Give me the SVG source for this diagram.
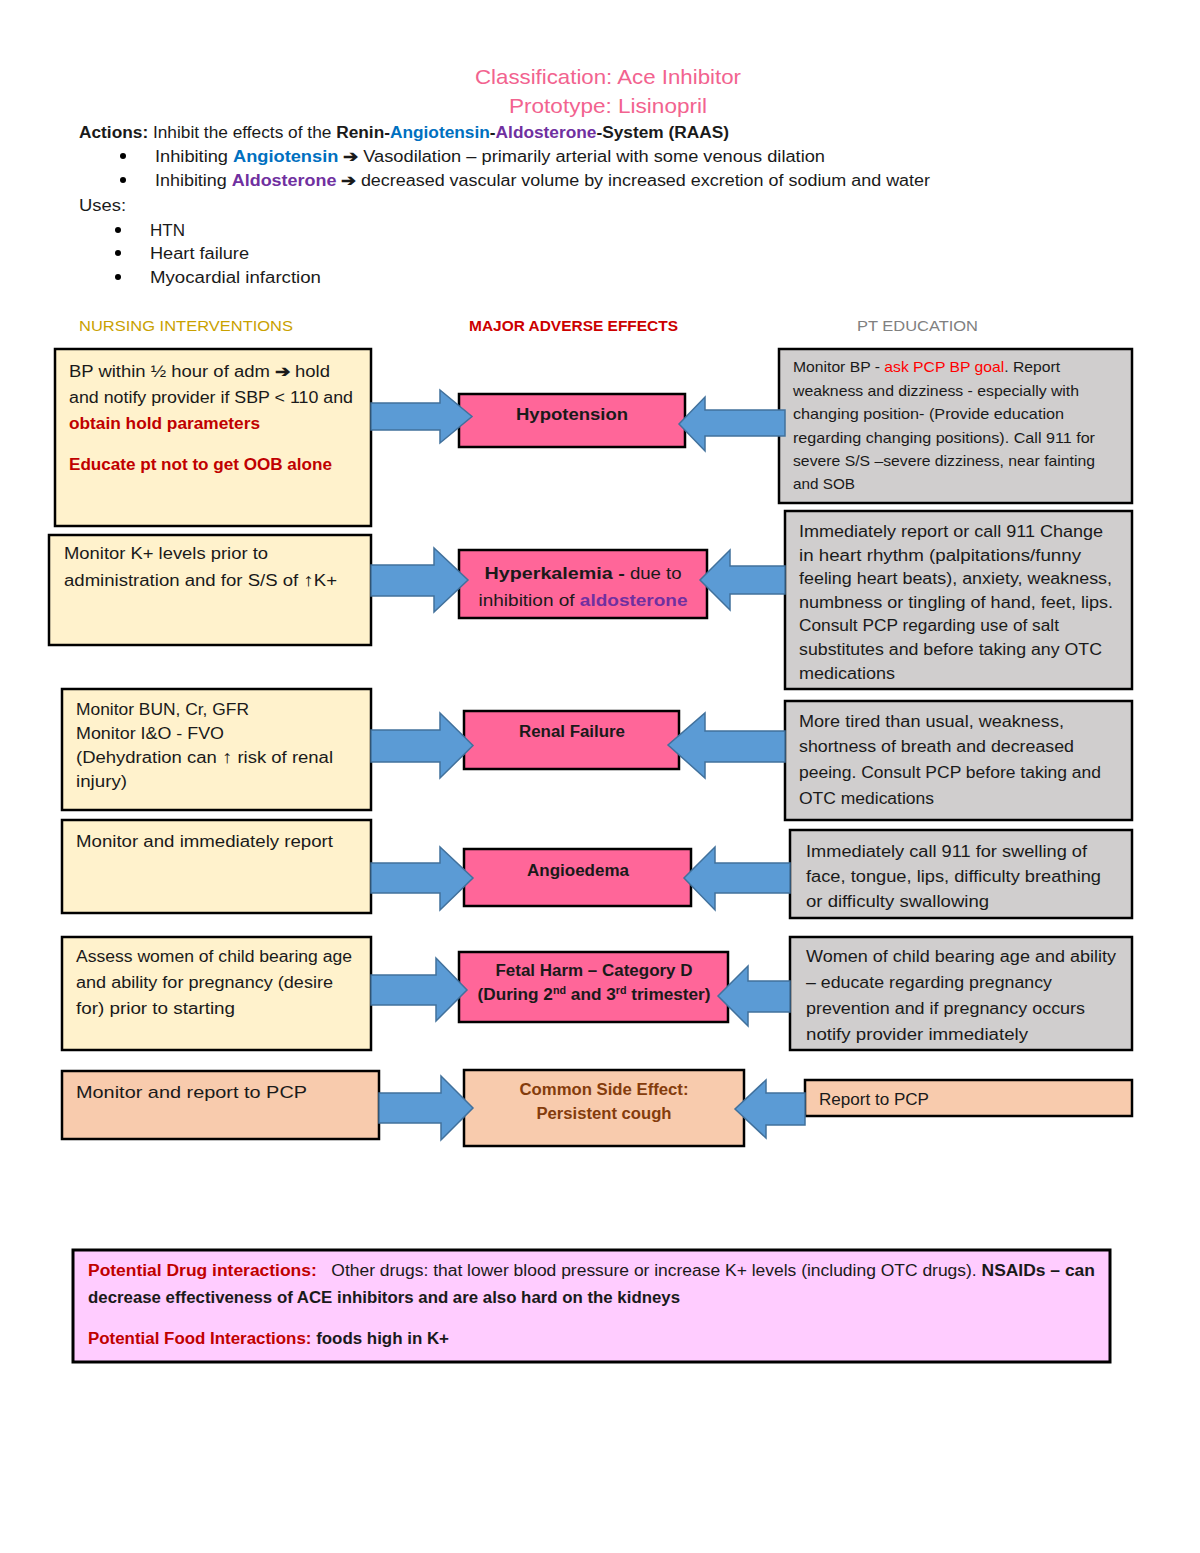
<svg xmlns="http://www.w3.org/2000/svg" width="1200" height="1553" viewBox="0 0 1200 1553">
<style>
text{font-family:"Liberation Sans",Arial,sans-serif;font-size:16px;fill:#1a1a1a}
.b{font-weight:bold}
.t{font-size:21px;fill:#F2638F;text-anchor:middle}
.red{fill:#C00000;font-weight:bold}
.bred{fill:#FF0000}
.blue{fill:#0070C0;font-weight:bold}
.pur{fill:#7030A0;font-weight:bold}
.hd{font-size:15px}
.sm{font-size:15px}
.c{text-anchor:middle}
.yel{fill:#FFF2CC;stroke:#000;stroke-width:2.5}
.gry{fill:#D0CECE;stroke:#000;stroke-width:2.5}
.pnk{fill:#FF6699;stroke:#000;stroke-width:2.5}
.pch{fill:#F8CBAD;stroke:#000;stroke-width:2.5}
.mag{fill:#FFCCFF;stroke:#000;stroke-width:3}
.arr{fill:#5B9BD5;stroke:#41719C;stroke-width:1.5}
.brn{fill:#843C0C;font-weight:bold}
.up{font-size:18px}
</style>
<rect width="1200" height="1553" fill="#fff"/>

<g id="header">
<text class="t" x="608" y="84" textLength="266" lengthAdjust="spacingAndGlyphs">Classification: Ace Inhibitor</text>
<text class="t" x="608" y="113" textLength="198" lengthAdjust="spacingAndGlyphs">Prototype: Lisinopril</text>
<text x="79" y="138" textLength="650" lengthAdjust="spacingAndGlyphs"><tspan class="b">Actions:</tspan> Inhibit the effects of the <tspan class="b">Renin-</tspan><tspan class="blue">Angiotensin</tspan><tspan class="b">-</tspan><tspan class="pur">Aldosterone</tspan><tspan class="b">-System (RAAS)</tspan></text>
<circle cx="123" cy="156" r="3" fill="#000"/>
<text x="155" y="162" textLength="670" lengthAdjust="spacingAndGlyphs">Inhibiting <tspan class="blue">Angiotensin</tspan> <tspan class="b">➔</tspan> Vasodilation – primarily arterial with some venous dilation</text>
<circle cx="123" cy="180" r="3" fill="#000"/>
<text x="155" y="186" textLength="775" lengthAdjust="spacingAndGlyphs">Inhibiting <tspan class="pur">Aldosterone</tspan> <tspan class="b">➔</tspan> decreased vascular volume by increased excretion of sodium and water</text>
<text x="79" y="211" textLength="47" lengthAdjust="spacingAndGlyphs">Uses:</text>
<circle cx="118" cy="230" r="3" fill="#000"/>
<text x="150" y="236" textLength="35" lengthAdjust="spacingAndGlyphs">HTN</text>
<circle cx="118" cy="253" r="3" fill="#000"/>
<text x="150" y="259" textLength="99" lengthAdjust="spacingAndGlyphs">Heart failure</text>
<circle cx="118" cy="277" r="3" fill="#000"/>
<text x="150" y="283" textLength="171" lengthAdjust="spacingAndGlyphs">Myocardial infarction</text>
<text class="hd" x="79" y="331" style="fill:#C9A100" textLength="214" lengthAdjust="spacingAndGlyphs">NURSING INTERVENTIONS</text>
<text class="hd b" x="469" y="331" style="fill:#CC0000" textLength="209" lengthAdjust="spacingAndGlyphs">MAJOR ADVERSE EFFECTS</text>
<text class="hd" x="857" y="331" style="fill:#808080" textLength="121" lengthAdjust="spacingAndGlyphs">PT EDUCATION</text>
</g>

<g id="ni-hypotension">
<rect class="yel" x="55" y="349" width="316" height="177"/>
<text x="69" y="377" textLength="261" lengthAdjust="spacingAndGlyphs">BP within ½ hour of adm <tspan class="b">➔</tspan> hold</text>
<text x="69" y="403" textLength="284" lengthAdjust="spacingAndGlyphs">and notify provider if SBP &lt; 110 and</text>
<text class="red" x="69" y="429" textLength="191" lengthAdjust="spacingAndGlyphs">obtain hold parameters</text>
<text class="red" x="69" y="470" textLength="263" lengthAdjust="spacingAndGlyphs">Educate pt not to get OOB alone</text>
</g>
<g id="ae-hypotension">
<rect class="pnk" x="459" y="394" width="226" height="53"/>
<text class="b c" x="572" y="420" textLength="112" lengthAdjust="spacingAndGlyphs">Hypotension</text>
</g>
<g id="pe-hypotension">
<rect class="gry" x="779" y="349" width="353" height="154"/>
<text class="sm" x="793" y="372" textLength="267" lengthAdjust="spacingAndGlyphs">Monitor BP - <tspan class="bred">ask PCP BP goal</tspan>. Report</text>
<text class="sm" x="793" y="396" textLength="286" lengthAdjust="spacingAndGlyphs">weakness and dizziness - especially with</text>
<text class="sm" x="793" y="419" textLength="271" lengthAdjust="spacingAndGlyphs">changing position- (Provide education</text>
<text class="sm" x="793" y="443" textLength="302" lengthAdjust="spacingAndGlyphs">regarding changing positions). Call 911 for</text>
<text class="sm" x="793" y="466" textLength="302" lengthAdjust="spacingAndGlyphs">severe S/S –severe dizziness, near fainting</text>
<text class="sm" x="793" y="489" textLength="62" lengthAdjust="spacingAndGlyphs">and SOB</text>
</g>

<g id="ni-hyperkalemia">
<rect class="yel" x="49" y="535" width="322" height="110"/>
<text x="64" y="559" textLength="204" lengthAdjust="spacingAndGlyphs">Monitor K+ levels prior to</text>
<text x="64" y="586" textLength="273" lengthAdjust="spacingAndGlyphs">administration and for S/S of  <tspan class="up">↑</tspan>K+</text>
</g>
<g id="ae-hyperkalemia">
<rect class="pnk" x="459" y="550" width="248" height="68"/>
<text class="c" x="583" y="579" textLength="197" lengthAdjust="spacingAndGlyphs"><tspan class="b" style="font-size:17px">Hyperkalemia -</tspan> due to</text>
<text class="c" x="583" y="606" textLength="209" lengthAdjust="spacingAndGlyphs">inhibition of <tspan class="pur">aldosterone</tspan></text>
</g>
<g id="pe-hyperkalemia">
<rect class="gry" x="785" y="511" width="347" height="178"/>
<text x="799" y="537" textLength="304" lengthAdjust="spacingAndGlyphs">Immediately report or call 911 Change</text>
<text x="799" y="561" textLength="282" lengthAdjust="spacingAndGlyphs">in heart rhythm (palpitations/funny</text>
<text x="799" y="584" textLength="313" lengthAdjust="spacingAndGlyphs">feeling heart beats), anxiety, weakness,</text>
<text x="799" y="608" textLength="314" lengthAdjust="spacingAndGlyphs">numbness or tingling of hand, feet, lips.</text>
<text x="799" y="631" textLength="260" lengthAdjust="spacingAndGlyphs">Consult PCP regarding use of salt</text>
<text x="799" y="655" textLength="303" lengthAdjust="spacingAndGlyphs">substitutes and before taking any OTC</text>
<text x="799" y="679" textLength="96" lengthAdjust="spacingAndGlyphs">medications</text>
</g>

<g id="ni-renal">
<rect class="yel" x="62" y="689" width="309" height="121"/>
<text x="76" y="715" textLength="173" lengthAdjust="spacingAndGlyphs">Monitor BUN, Cr, GFR</text>
<text x="76" y="739" textLength="148" lengthAdjust="spacingAndGlyphs">Monitor I&amp;O - FVO</text>
<text x="76" y="763" textLength="257" lengthAdjust="spacingAndGlyphs">(Dehydration can <tspan class="up">↑</tspan> risk of renal</text>
<text x="76" y="787" textLength="51" lengthAdjust="spacingAndGlyphs">injury)</text>
</g>
<g id="ae-renal">
<rect class="pnk" x="464" y="711" width="215" height="58"/>
<text class="b c" x="572" y="737" textLength="106" lengthAdjust="spacingAndGlyphs">Renal Failure</text>
</g>
<g id="pe-renal">
<rect class="gry" x="785" y="701" width="347" height="119"/>
<text x="799" y="727" textLength="265" lengthAdjust="spacingAndGlyphs">More tired than usual, weakness,</text>
<text x="799" y="752" textLength="275" lengthAdjust="spacingAndGlyphs">shortness of breath and decreased</text>
<text x="799" y="778" textLength="302" lengthAdjust="spacingAndGlyphs">peeing. Consult PCP before taking and</text>
<text x="799" y="804" textLength="135" lengthAdjust="spacingAndGlyphs">OTC medications</text>
</g>

<g id="ni-angioedema">
<rect class="yel" x="62" y="820" width="309" height="93"/>
<text x="76" y="847" textLength="257" lengthAdjust="spacingAndGlyphs">Monitor and immediately report</text>
</g>
<g id="ae-angioedema">
<rect class="pnk" x="464" y="849" width="227" height="57"/>
<text class="b c" x="578" y="876" textLength="102" lengthAdjust="spacingAndGlyphs">Angioedema</text>
</g>
<g id="pe-angioedema">
<rect class="gry" x="790" y="830" width="342" height="88"/>
<text x="806" y="857" textLength="281" lengthAdjust="spacingAndGlyphs">Immediately call 911 for swelling of</text>
<text x="806" y="882" textLength="295" lengthAdjust="spacingAndGlyphs">face, tongue, lips, difficulty breathing</text>
<text x="806" y="907" textLength="183" lengthAdjust="spacingAndGlyphs">or difficulty swallowing</text>
</g>

<g id="ni-fetal">
<rect class="yel" x="62" y="937" width="309" height="113"/>
<text x="76" y="962" textLength="276" lengthAdjust="spacingAndGlyphs">Assess women of child bearing age</text>
<text x="76" y="988" textLength="257" lengthAdjust="spacingAndGlyphs">and ability for pregnancy (desire</text>
<text x="76" y="1014" textLength="159" lengthAdjust="spacingAndGlyphs">for) prior to starting</text>
</g>
<g id="ae-fetal">
<rect class="pnk" x="459" y="952" width="269" height="70"/>
<text class="b c" x="594" y="976" textLength="197" lengthAdjust="spacingAndGlyphs">Fetal Harm – Category D</text>
<text class="b c" x="594" y="1000" textLength="233" lengthAdjust="spacingAndGlyphs">(During 2<tspan style="font-size:10px" dy="-6">nd</tspan><tspan dy="6"> and 3</tspan><tspan style="font-size:10px" dy="-6">rd</tspan><tspan dy="6"> trimester)</tspan></text>
</g>
<g id="pe-fetal">
<rect class="gry" x="790" y="937" width="342" height="113"/>
<text x="806" y="962" textLength="310" lengthAdjust="spacingAndGlyphs">Women of child bearing age and ability</text>
<text x="806" y="988" textLength="246" lengthAdjust="spacingAndGlyphs">– educate regarding pregnancy</text>
<text x="806" y="1014" textLength="279" lengthAdjust="spacingAndGlyphs">prevention and if pregnancy occurs</text>
<text x="806" y="1040" textLength="222" lengthAdjust="spacingAndGlyphs">notify provider immediately</text>
</g>

<g id="ni-cough">
<rect class="pch" x="62" y="1071" width="317" height="68"/>
<text x="76" y="1098" style="font-size:17px" textLength="231" lengthAdjust="spacingAndGlyphs">Monitor and report to PCP</text>
</g>
<g id="ae-cough">
<rect class="pch" x="464" y="1070" width="280" height="76"/>
<text class="brn c" x="604" y="1095" textLength="169" lengthAdjust="spacingAndGlyphs">Common Side Effect:</text>
<text class="brn c" x="604" y="1119" textLength="135" lengthAdjust="spacingAndGlyphs">Persistent cough</text>
</g>
<g id="pe-cough">
<rect class="pch" x="805" y="1080" width="327" height="36"/>
<text x="819" y="1105" textLength="110" lengthAdjust="spacingAndGlyphs">Report to PCP</text>
</g>

<g id="interactions">
<rect class="mag" x="73" y="1250" width="1037" height="112"/>
<text x="88" y="1276" textLength="1007" lengthAdjust="spacingAndGlyphs"><tspan class="red">Potential Drug interactions:</tspan>&#160;&#160;&#160;Other drugs: that lower blood pressure or increase K+ levels (including OTC drugs). <tspan class="b">NSAIDs – can</tspan></text>
<text class="b" x="88" y="1303" textLength="592" lengthAdjust="spacingAndGlyphs">decrease effectiveness of ACE inhibitors and are also hard on the kidneys</text>
<text x="88" y="1344" textLength="361" lengthAdjust="spacingAndGlyphs"><tspan class="red">Potential Food Interactions:</tspan><tspan class="b"> foods high in K+</tspan></text>
</g>

<g id="connectors">
<polygon class="arr" points="371,403 440,403 440,390 472,416.5 440,443 440,430 371,430"/>
<polygon class="arr" points="371,565 434,565 434,548 468,580 434,612 434,596 371,596"/>
<polygon class="arr" points="371,730 440,730 440,713 473,745.5 440,778 440,762 371,762"/>
<polygon class="arr" points="371,863 440,863 440,847 473,878 440,910 440,893 371,893"/>
<polygon class="arr" points="371,975 436,975 436,958 467,990 436,1021 436,1005 371,1005"/>
<polygon class="arr" points="379,1093 441,1093 441,1076 473,1108 441,1140 441,1123 379,1123"/>
<polygon class="arr" points="785,410 705,410 705,397 679,424 705,451 705,436 785,436"/>
<polygon class="arr" points="785,566 730,566 730,550 700,580 730,610 730,594 785,594"/>
<polygon class="arr" points="785,731 705,731 705,713 668,745 705,778 705,762 785,762"/>
<polygon class="arr" points="790,863 715,863 715,847 684,878 715,910 715,893 790,893"/>
<polygon class="arr" points="790,981 748,981 748,966 718,996 748,1026 748,1012 790,1012"/>
<polygon class="arr" points="805,1093 766,1093 766,1080 735,1109 766,1138 766,1125 805,1125"/>
</g>
</svg>
